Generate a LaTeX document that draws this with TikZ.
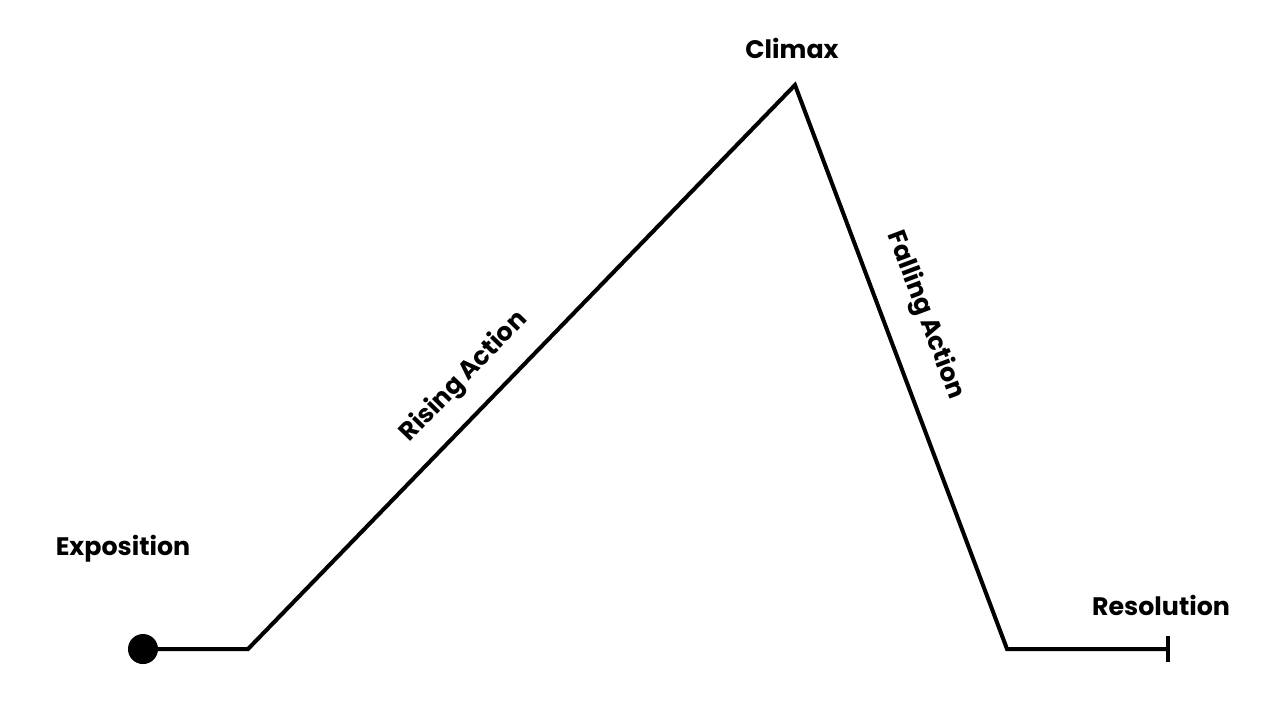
\documentclass[tikz,border=0pt]{standalone}
\usepackage{fontspec}
\setmainfont{Poppins}
\usetikzlibrary{calc}
\tikzset{stage/.style={font=\bfseries\fontsize{7.2}{9}\selectfont, inner sep=0pt}}

\begin{document}
\begin{tikzpicture}[x=0.01cm, y=-0.01cm, every path/.style={line width=1.15pt}]
  \useasboundingbox (0,0) rectangle (1280,720);

  \coordinate (start) at (143, 649);
  \coordinate (knee) at (248, 649);
  \coordinate (peak) at (795, 85);
  \coordinate (drop) at (1007, 649);
  \coordinate (end) at (1168, 649);
  \coordinate (bartop) at (1168, 636);
  \coordinate (barbot) at (1168, 662);

  \node[stage] at (123, 549) (expo) {Exposition};
  \node[stage] at (792, 48) (climax) {Climax};
  \node[stage] at (1161, 605) (reso) {Resolution};
  \node[stage, rotate=45.9] at (464, 377) (rising) {Rising Action};
  \node[stage, rotate=-69.4] at (925, 315) (falling) {Falling Action};

  \draw[line join=miter] (start) -- (knee) -- (peak) -- (drop) -- (end);
  \draw (bartop) -- (barbot);
  \fill (start) circle (0.15cm);
\end{tikzpicture}
\end{document}
